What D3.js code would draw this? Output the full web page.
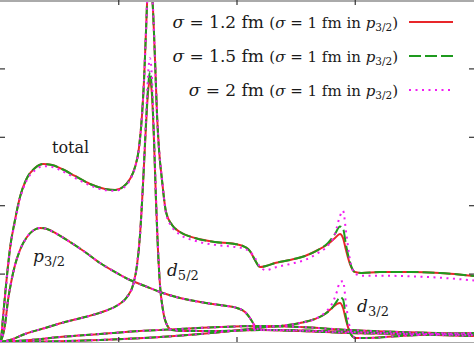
<!DOCTYPE html>
<html lang="en">
<head>
<meta charset="UTF-8">
<title>Partial wave cross sections</title>
<script src="https://d3js.org/d3.v7.min.js"></script>
<style>
    body { margin: 0; background: #fff; }
    .curve { fill: none; stroke-width: 2px; stroke-linejoin: round; }
    .tick line { stroke: #333; stroke-width: 1.2px; }
    .frame { stroke: #aaa; stroke-width: 2px; }
    .legend text, .label {
        font-family: "DejaVu Serif", "Liberation Serif", serif;
        fill: #1a1a1a;
        white-space: pre;
    }
</style>
</head>
<body>
<div id="chart"></div>
<script>
    // total cross section, one y array per sigma (1.2, 1.5, 2 fm)
    const totalE = [0.008, 0.025, 0.051, 0.085, 0.127, 0.169, 0.228, 0.296, 0.364, 0.440, 0.524, 0.634, 0.761, 0.888, 0.973, 1.040, 1.099, 1.142, 1.175, 1.201, 1.218, 1.235, 1.252, 1.264, 1.277, 1.294, 1.311, 1.328, 1.345, 1.370, 1.404, 1.455, 1.522, 1.649, 1.818, 1.987, 2.072, 2.114, 2.156, 2.199, 2.249, 2.326, 2.452, 2.579, 2.689, 2.774, 2.833, 2.875, 2.901, 2.926, 2.960, 3.002, 3.061, 3.214, 3.467, 3.721, 4.008];
    const totalA = [0, 0.351, 0.833, 1.374, 1.784, 2.120, 2.398, 2.544, 2.602, 2.588, 2.529, 2.427, 2.310, 2.237, 2.222, 2.266, 2.383, 2.558, 2.836, 3.319, 3.830, 4.561, 5.292, 5.585, 5.292, 4.854, 4.123, 3.319, 2.807, 2.368, 1.901, 1.711, 1.608, 1.520, 1.462, 1.433, 1.389, 1.330, 1.199, 1.096, 1.111, 1.155, 1.199, 1.257, 1.345, 1.433, 1.520, 1.579, 1.520, 1.345, 1.140, 1.023, 1.009, 1.023, 1.023, 1.009, 0.965];
    const totalB = [0, 0.351, 0.833, 1.374, 1.784, 2.120, 2.398, 2.544, 2.602, 2.588, 2.529, 2.427, 2.310, 2.237, 2.222, 2.266, 2.383, 2.558, 2.836, 3.319, 3.830, 4.561, 5.292, 5.585, 5.292, 4.854, 4.123, 3.319, 2.807, 2.368, 1.901, 1.711, 1.608, 1.520, 1.462, 1.433, 1.389, 1.330, 1.199, 1.096, 1.111, 1.155, 1.199, 1.257, 1.345, 1.45, 1.58, 1.69, 1.66, 1.42, 1.16, 1.02, 1.009, 1.023, 1.023, 1.009, 0.965];
    const totalC = [0, 0.33, 0.81, 1.35, 1.76, 2.09, 2.37, 2.51, 2.57, 2.56, 2.50, 2.40, 2.29, 2.22, 2.21, 2.25, 2.37, 2.55, 2.83, 3.31, 3.83, 4.56, 5.30, 5.62, 5.32, 4.88, 4.15, 3.35, 2.83, 2.39, 1.88, 1.68, 1.57, 1.48, 1.42, 1.39, 1.36, 1.32, 1.23, 1.10, 1.05, 1.09, 1.14, 1.20, 1.30, 1.41, 1.58, 1.84, 1.92, 1.62, 1.20, 1.00, 0.97, 0.97, 0.96, 0.94, 0.90];

    // d5/2
    const d52E = [0, 0.085, 0.211, 0.381, 0.550, 0.719, 0.888, 0.998, 1.074, 1.125, 1.159, 1.184, 1.209, 1.235, 1.252, 1.268, 1.285, 1.302, 1.319, 1.336, 1.353, 1.378, 1.412, 1.455, 1.564, 1.860, 2.199, 2.537, 2.960, 3.383, 4.008];
    const d52A = [0, 0.029, 0.117, 0.205, 0.292, 0.365, 0.453, 0.541, 0.658, 0.833, 1.126, 1.564, 2.295, 3.173, 3.655, 3.830, 3.611, 2.953, 2.076, 1.345, 0.833, 0.468, 0.249, 0.175, 0.161, 0.161, 0.175, 0.161, 0.132, 0.117, 0.088];
    const d52B = [0, 0.029, 0.117, 0.205, 0.292, 0.365, 0.453, 0.541, 0.658, 0.833, 1.126, 1.564, 2.295, 3.22, 3.72, 3.95, 3.68, 2.99, 2.076, 1.345, 0.833, 0.468, 0.249, 0.175, 0.161, 0.161, 0.175, 0.161, 0.132, 0.117, 0.088];
    const d52C = [0, 0.029, 0.117, 0.205, 0.292, 0.365, 0.453, 0.541, 0.658, 0.833, 1.126, 1.564, 2.32, 3.28, 3.90, 4.15, 3.86, 3.05, 2.15, 1.40, 0.833, 0.468, 0.249, 0.175, 0.161, 0.161, 0.175, 0.161, 0.132, 0.117, 0.088];

    // d3/2
    const d32E = [0, 0.846, 1.691, 2.030, 2.173, 2.368, 2.537, 2.664, 2.748, 2.808, 2.850, 2.875, 2.901, 2.926, 2.951, 2.977, 3.011, 3.087, 3.383, 3.721, 4.008];
    const d32A = [0, 0.029, 0.117, 0.175, 0.205, 0.234, 0.278, 0.336, 0.409, 0.497, 0.556, 0.570, 0.497, 0.322, 0.175, 0.088, 0.058, 0.058, 0.088, 0.117, 0.132];
    const d32B = [0, 0.029, 0.117, 0.175, 0.205, 0.234, 0.278, 0.336, 0.409, 0.497, 0.60, 0.658, 0.62, 0.36, 0.18, 0.088, 0.058, 0.058, 0.088, 0.117, 0.132];
    const d32C = [0, 0.029, 0.117, 0.175, 0.205, 0.234, 0.278, 0.336, 0.43, 0.56, 0.74, 0.88, 0.89, 0.56, 0.27, 0.11, 0.058, 0.058, 0.088, 0.117, 0.132];

    // p3/2 (sigma = 1 fm in all three runs)
    const p32E = [0, 0.025, 0.042, 0.068, 0.093, 0.127, 0.169, 0.228, 0.288, 0.338, 0.397, 0.482, 0.592, 0.719, 0.846, 0.973, 1.099, 1.226, 1.353, 1.522, 1.691, 1.860, 2.004, 2.072, 2.114, 2.156, 2.199, 2.368, 2.706, 3.214, 4.008];
    const p32Y = [0, 0.102, 0.249, 0.614, 0.863, 1.126, 1.345, 1.535, 1.637, 1.667, 1.652, 1.579, 1.462, 1.316, 1.155, 1.023, 0.906, 0.819, 0.731, 0.643, 0.585, 0.541, 0.497, 0.439, 0.351, 0.234, 0.175, 0.175, 0.161, 0.132, 0.102];

    // remaining small partial wave
    const lowE = [0, 0.254, 0.507, 0.846, 1.184, 1.522, 1.860, 2.199, 2.537, 2.960, 3.383, 4.008];
    const lowY = [0, 0.029, 0.073, 0.117, 0.161, 0.190, 0.219, 0.234, 0.219, 0.175, 0.146, 0.117];

    const sigmas = ["1.2", "1.5", "2"];
    const xTicks = [1, 2, 3];
    const yTicks = [1, 2, 3, 4];

    const width = 474, height = 343;

    const x = d3.scaleLinear().domain([0, 4]).range([0, 473]);
    const y = d3.scaleLinear().domain([0, 5]).range([342, 0]);

    const svg = d3.select("#chart")
      .append("svg")
        .attr("width", width)
        .attr("height", height);

    svg.append("clipPath")
        .attr("id", "clip")
      .append("rect")
        .attr("width", width)
        .attr("height", height);

    const zip = (es, vs) => es.map((e, i) => [e, vs[i]]);

    const line = d3.line()
        .x(d => x(d[0]))
        .y(d => y(d[1]))
        .curve(d3.curveMonotoneX);

    const runs = [
        { total: totalA, d52: d52A, d32: d32A, color: "#e8262a", dash: null },
        { total: totalB, d52: d52B, d32: d32B, color: "#1e9a1e", dash: "12,4" },
        { total: totalC, d52: d52C, d32: d32C, color: "#f21cf2", dash: "2,4.5" }
    ];

    const plot = svg.append("g").attr("clip-path", "url(#clip)");

    runs.forEach(r => {
        const curves = [
            zip(lowE, lowY),
            zip(d32E, r.d32),
            zip(d52E, r.d52),
            zip(p32E, p32Y),
            zip(totalE, r.total)
        ];
        plot.selectAll(null)
            .data(curves)
            .enter()
            .append("path")
            .attr("class", "curve")
            .attr("d", line)
            .style("stroke", r.color)
            .style("stroke-dasharray", r.dash);
    });

    // frame and inward ticks, no labels
    svg.append("line").attr("class", "frame")
        .attr("x1", 0).attr("x2", width).attr("y1", 1).attr("y2", 1);
    svg.append("line").attr("class", "frame")
        .attr("x1", 0).attr("x2", width).attr("y1", 342.5).attr("y2", 342.5)
        .style("stroke-width", "1px");

    const axes = [
        [d3.axisLeft(y).tickValues(yTicks), "translate(0,0)"],
        [d3.axisRight(y).tickValues(yTicks), `translate(${width},0)`],
        [d3.axisTop(x).tickValues(xTicks), "translate(0,0)"],
        [d3.axisBottom(x).tickValues(xTicks), "translate(0,342)"]
    ];
    axes.forEach(([ax, tr]) => {
        const g = svg.append("g")
            .attr("transform", tr)
            .call(ax.tickSize(-5).tickSizeOuter(0).tickFormat(""));
        g.select(".domain").remove();
    });

    // curve labels
    const lab = (e, v) => svg.append("text")
        .attr("class", "label")
        .attr("x", x(e))
        .attr("y", y(v))
        .style("font-size", "16px");

    lab(0.44, 2.76).text("total");

    const subLabel = (e, v, letter, sub) => {
        const t = lab(e, v);
        t.append("tspan").style("font-style", "italic").style("font-size", "17px").text(letter);
        t.append("tspan").attr("dy", 4).style("font-size", "13px").text(sub);
    };
    subLabel(0.28, 1.17, "p", "3/2");
    subLabel(1.412, 0.965, "d", "5/2");
    subLabel(3.02, 0.44, "d", "3/2");

    // legend
    const legend = svg.append("g").attr("class", "legend");
    const rowY = [28, 62, 96];

    sigmas.forEach((s, i) => {
        const t = legend.append("text")
            .attr("x", 398)
            .attr("y", rowY[i])
            .attr("text-anchor", "end")
            .style("font-size", "17px");
        t.append("tspan").style("font-style", "italic").text("σ");
        t.append("tspan").text(` = ${s} fm `);
        t.append("tspan").style("font-size", "15px").text("(");
        t.append("tspan").style("font-size", "15px").style("font-style", "italic").text("σ");
        t.append("tspan").style("font-size", "15px").text(" = 1 fm in ");
        t.append("tspan").style("font-size", "15px").style("font-style", "italic").text("p");
        t.append("tspan").style("font-size", "10.5px").attr("dy", 3).text("3/2");
        t.append("tspan").style("font-size", "15px").attr("dy", -3).text(")");

        legend.append("line")
            .attr("x1", 409).attr("x2", 453)
            .attr("y1", rowY[i] - 6).attr("y2", rowY[i] - 6)
            .style("stroke", runs[i].color)
            .style("stroke-width", "2px")
            .style("stroke-dasharray", runs[i].dash);
    });
</script>
</body>
</html>
